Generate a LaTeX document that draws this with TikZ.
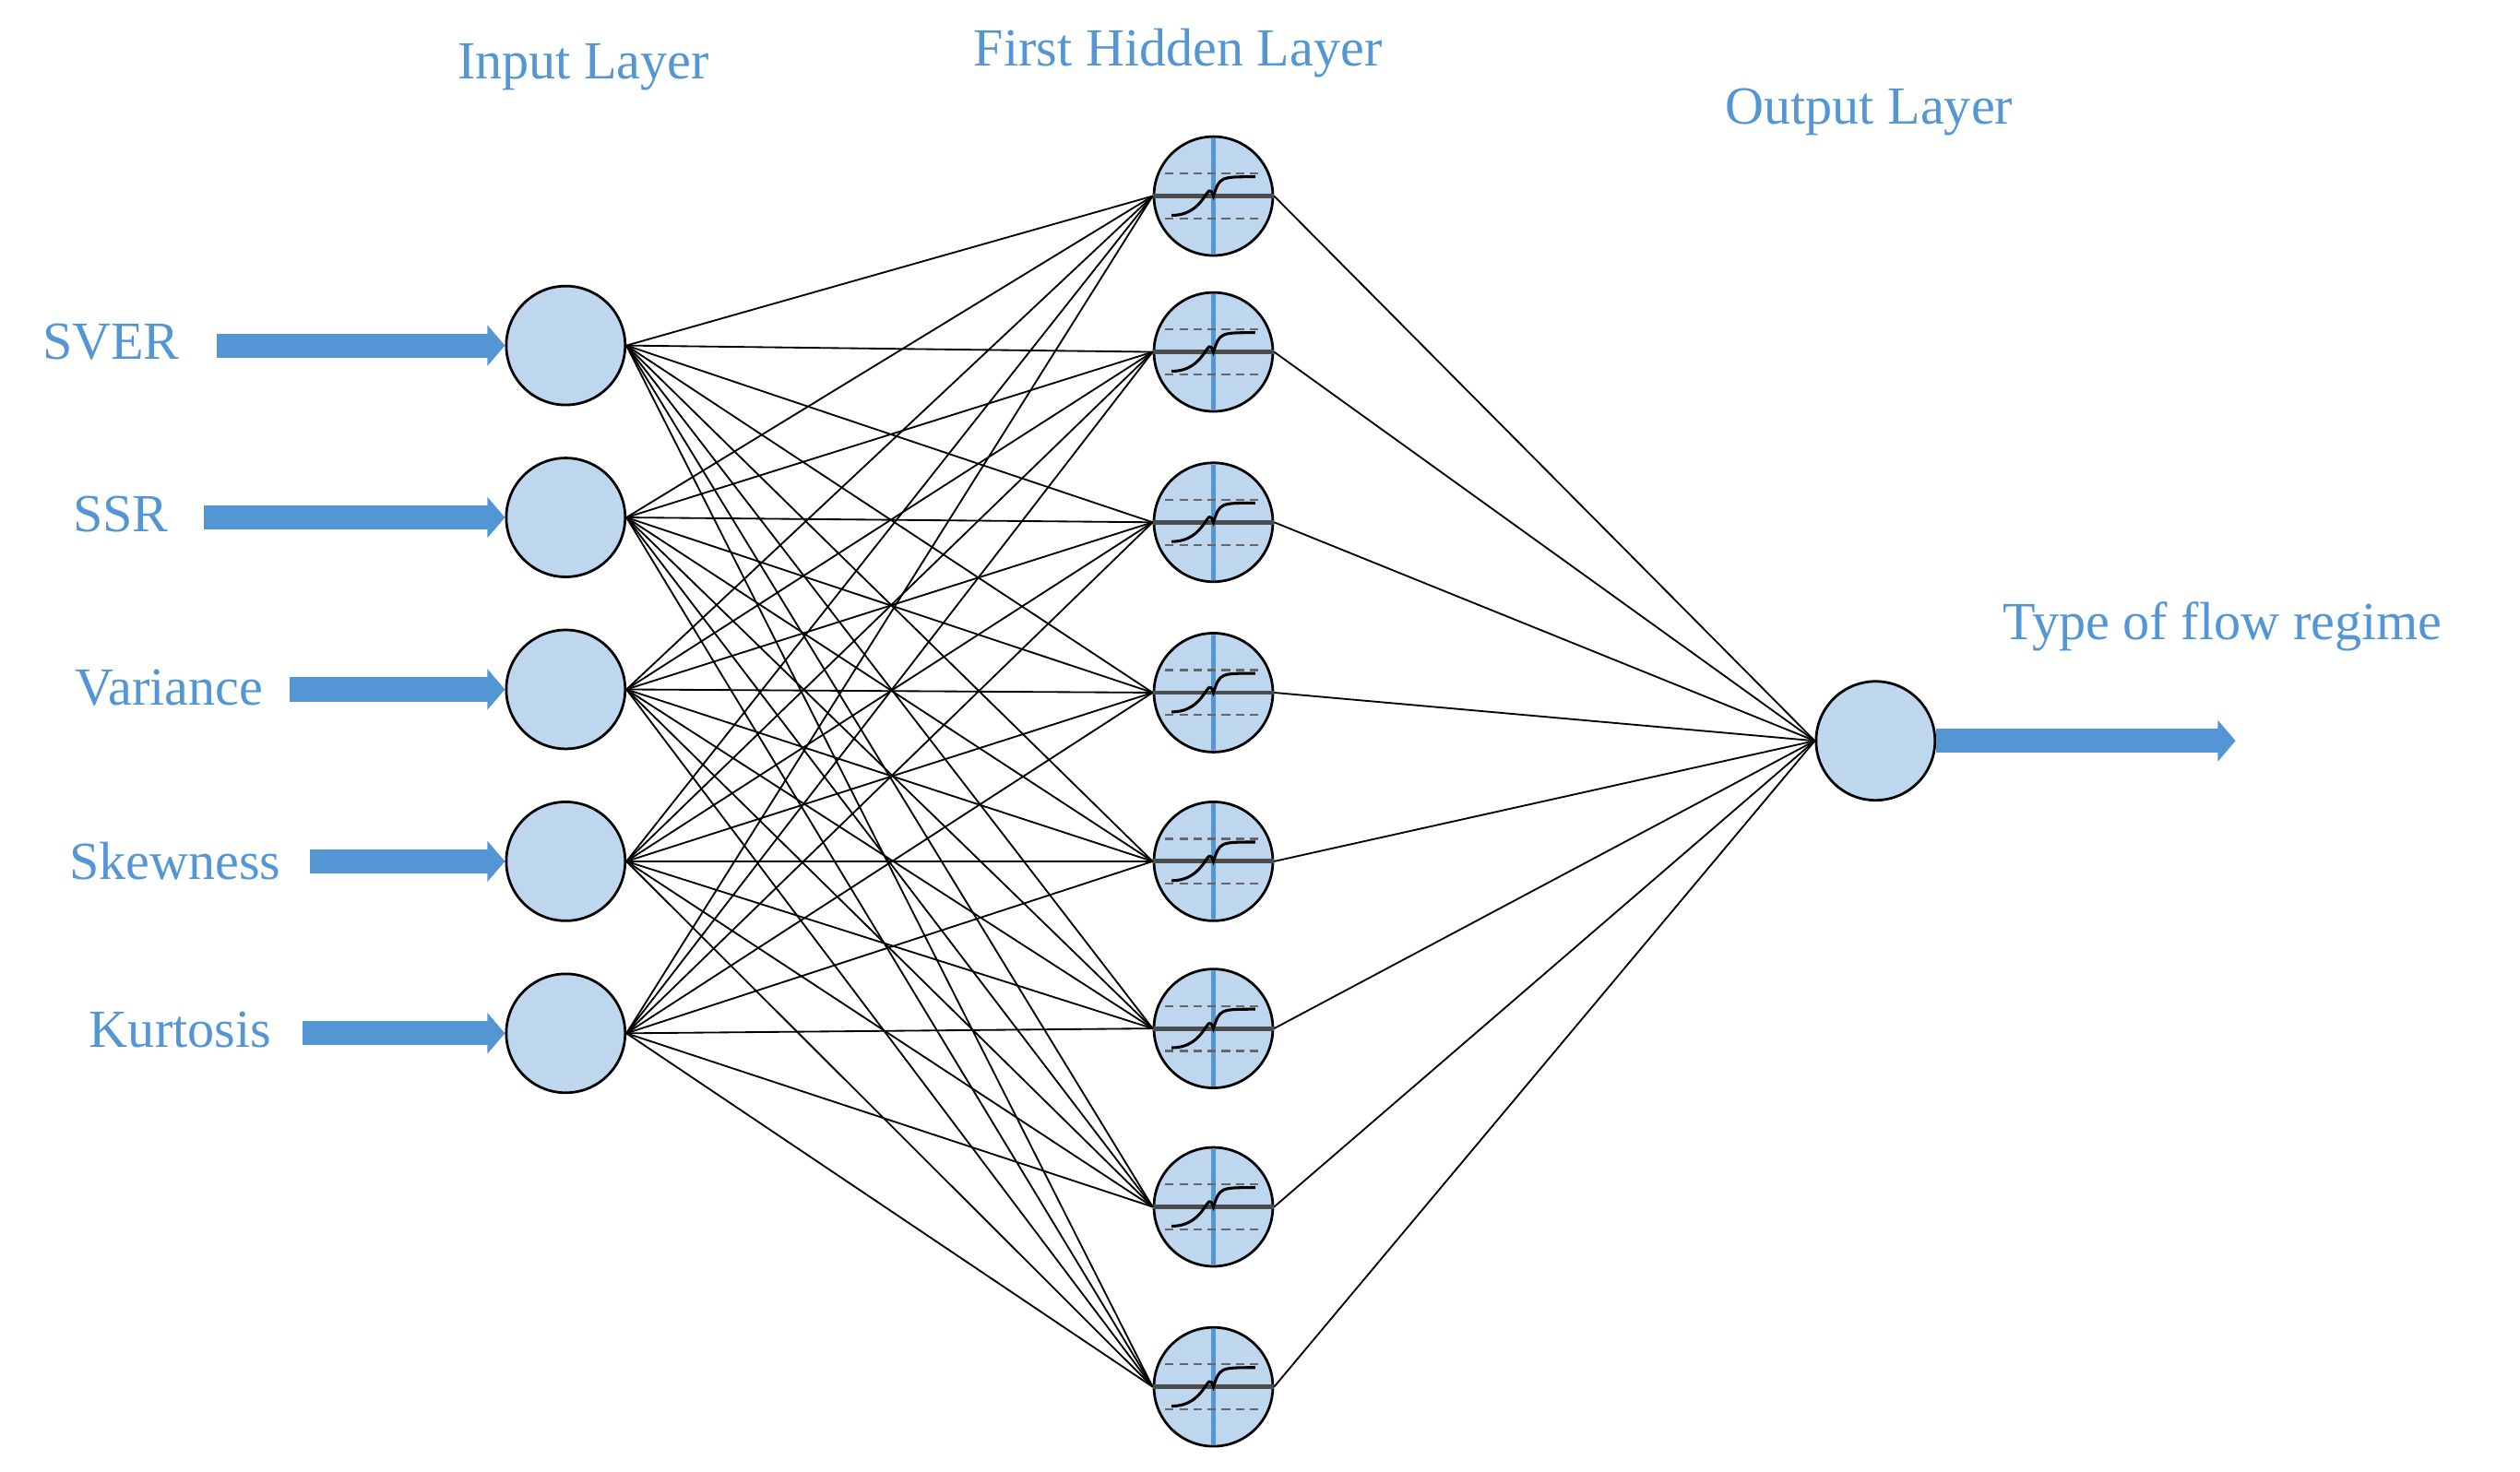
\documentclass[tikz,border=0pt]{standalone}
\usepackage{fontspec}
\setmainfont{Liberation Serif}
\usetikzlibrary{arrows.meta}
\definecolor{tblue}{RGB}{84,150,212}
\definecolor{nfill}{RGB}{190,215,238}
\begin{document}
\begin{tikzpicture}[x=0.02cm,y=-0.02cm,
  neuron/.style={circle,draw=black,line width=0.9pt,fill=nfill,minimum size=1.48cm,inner sep=0pt},
  lbl/.style={text=tblue,font=\fontsize{19}{22}\selectfont},
  big/.style={draw=tblue,line width=0.3cm,-{Triangle[length=0.22cm,width=0.5cm]}},
  conn/.style={draw=black,line width=0.6pt}]
\useasboundingbox (0,0) rectangle (1568,916);
\foreach \i/\y in {1/215,2/322,3/429,4/536,5/643}{\node[neuron] (i\i) at (352,\y) {};}
\foreach \j/\y in {1/122,2/219,3/325,4/431,5/536,6/640,7/751,8/863}{
  \node[neuron] (h\j) at (755,\y) {};
  \begin{scope}
  \clip (h\j) circle (0.72cm);
  \draw[tblue,line width=1.4pt] (h\j.north) -- (h\j.south);
  \draw[black!60,densely dashed,line width=0.7pt] ([shift={(-30,-14)}]h\j.center) -- ([shift={(30,-14)}]h\j.center);
  \draw[black!60,densely dashed,line width=0.7pt] ([shift={(-30,14)}]h\j.center) -- ([shift={(30,14)}]h\j.center);
  \end{scope}
  \draw[black!70,line width=1.6pt] (h\j.west) -- (h\j.east);
  \draw[black,line width=1pt] ([shift={(-26,12)}]h\j.center) .. controls ([shift={(-4,12)}]h\j.center) and ([shift={(-4,-12)}]h\j.center) .. ([shift={(0,0)}]h\j.center)
     .. controls ([shift={(4,-12)}]h\j.center) and ([shift={(4,-12)}]h\j.center) .. ([shift={(26,-12)}]h\j.center);
}
\node[neuron] (o) at (1167,461) {};
\foreach \i in {1,...,5}{\foreach \j in {1,...,8}{\draw[conn] (i\i.east) -- (h\j.west);}}
\foreach \j in {1,...,8}{\draw[conn] (h\j.east) -- (o.west);}
\node[lbl] (t1) at (363,42) {Input Layer};
\node[lbl] (t2) at (733,33) {First Hidden Layer};
\node[lbl] (t3) at (1163,70) {Output Layer};
\node[lbl] (t4) at (1383,390) {Type of flow regime};
\node[lbl,anchor=east] (l1) at (118,213) {SVER};
\node[lbl,anchor=east] (l2) at (111,320) {SSR};
\node[lbl,anchor=east] (l3) at (170,428) {Variance};
\node[lbl,anchor=east] (l4) at (181,536) {Skewness};
\node[lbl,anchor=east] (l5) at (175,641) {Kurtosis};
\coordinate (a1) at (135,215); \coordinate (a2) at (127,322); \coordinate (a3) at (180,429);
\coordinate (a4) at (193,536); \coordinate (a5) at (188,643);
\foreach \i in {1,...,5}{\draw[big] (a\i) -- (i\i.west);}
\coordinate (oe) at (1391,461);
\draw[big] (o.east) -- (oe);
\end{tikzpicture}
\end{document}
